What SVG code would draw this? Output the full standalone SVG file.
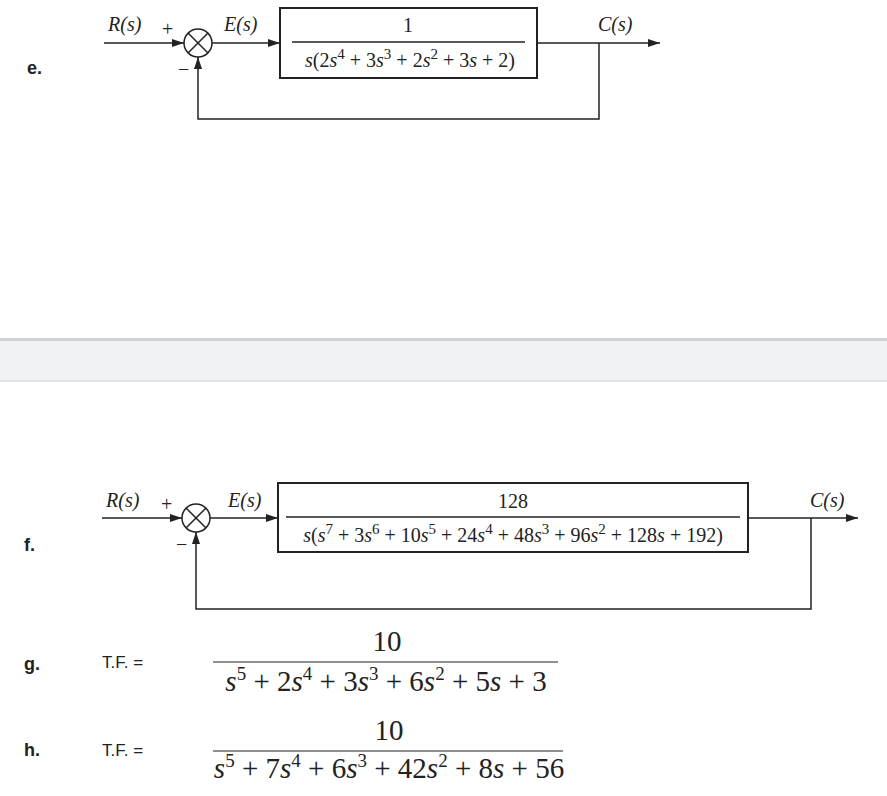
<svg xmlns="http://www.w3.org/2000/svg" width="887" height="796" viewBox="0 0 887 796">
<style>
.ln{stroke:#222;stroke-width:1.5;fill:none}
.bx{stroke:#222;stroke-width:2;fill:#fff}
.m{font-family:"Liberation Serif",serif;font-style:normal;font-size:20px;fill:#222}
.mi{font-family:"Liberation Serif",serif;font-style:italic;font-size:20px;fill:#222}
.sup{font-style:normal;font-size:15px}
.lb{font-family:"Liberation Sans",sans-serif;font-size:17px;fill:#222}
.lbb{font-family:"Liberation Sans",sans-serif;font-size:18px;font-weight:bold;fill:#222}
.big{font-family:"Liberation Serif",serif;font-size:29px;fill:#222}
</style>
<defs>
<marker id="a" markerWidth="12" markerHeight="8" refX="12" refY="4" orient="auto" markerUnits="userSpaceOnUse"><path d="M0,0 L12,4 L0,8 Z" fill="#222"/></marker>
</defs>
<rect width="887" height="796" fill="#fff"/>
<rect x="0" y="338" width="887" height="44" fill="#f1f2f4"/>
<rect x="0" y="338" width="887" height="3" fill="#cfd1d5"/>
<rect x="0" y="380" width="887" height="2" fill="#e2e4e7"/>

<text class="lbb" x="27" y="74">e.</text>
<text class="lbb" x="24" y="551">f.</text>
<text class="lbb" x="24" y="670">g.</text>
<text class="lbb" x="24" y="756">h.</text>

<g id="connectors">
<path class="ln" d="M104,43 H184" marker-end="url(#a)"/>
<path class="ln" d="M212,43 H280" marker-end="url(#a)"/>
<path class="ln" d="M537,43 H660" marker-end="url(#a)"/>
<path class="ln" d="M599,43 V119 H198 V57" marker-end="url(#a)"/>
<path class="ln" d="M102,518 H182" marker-end="url(#a)"/>
<path class="ln" d="M210,518 H278" marker-end="url(#a)"/>
<path class="ln" d="M748,518 H858" marker-end="url(#a)"/>
<path class="ln" d="M811,518 V609 H196 V532" marker-end="url(#a)"/>
</g>

<g id="sum-e"><circle class="ln" cx="198" cy="43" r="14"/><path class="ln" d="M188,33 L208,53 M208,33 L188,53"/></g>
<g id="block-e"><rect class="bx" x="280" y="8" width="257" height="70"/><text class="m" x="408" y="32" text-anchor="middle">1</text><line class="ln" x1="292" y1="42" x2="525" y2="42" stroke-width="1"/><text class="mi" x="410" y="67" text-anchor="middle">s<tspan class="m">(2</tspan>s<tspan class="sup" dy="-8">4</tspan><tspan class="m" dy="8"> + 3</tspan>s<tspan class="sup" dy="-8">3</tspan><tspan class="m" dy="8"> + 2</tspan>s<tspan class="sup" dy="-8">2</tspan><tspan class="m" dy="8"> + 3</tspan>s<tspan class="m"> + 2)</tspan></text></g>
<g id="labels-e"><text class="mi" x="108" y="31">R(s)</text><text class="m" x="162" y="36">+</text><text class="mi" x="224" y="31">E(s)</text><text class="mi" x="598" y="31">C(s)</text><text class="m" x="178" y="76">−</text></g>

<g id="sum-f"><circle class="ln" cx="196" cy="518" r="14"/><path class="ln" d="M186,508 L206,528 M206,508 L186,528"/></g>
<g id="block-f"><rect class="bx" x="278" y="483" width="470" height="69"/><text class="m" x="513" y="508" text-anchor="middle">128</text><line class="ln" x1="286" y1="517" x2="740" y2="517" stroke-width="1"/><text class="mi" x="513" y="542" text-anchor="middle">s<tspan class="m">(</tspan>s<tspan class="sup" dy="-8">7</tspan><tspan class="m" dy="8"> + 3</tspan>s<tspan class="sup" dy="-8">6</tspan><tspan class="m" dy="8"> + 10</tspan>s<tspan class="sup" dy="-8">5</tspan><tspan class="m" dy="8"> + 24</tspan>s<tspan class="sup" dy="-8">4</tspan><tspan class="m" dy="8"> + 48</tspan>s<tspan class="sup" dy="-8">3</tspan><tspan class="m" dy="8"> + 96</tspan>s<tspan class="sup" dy="-8">2</tspan><tspan class="m" dy="8"> + 128</tspan>s<tspan class="m"> + 192)</tspan></text></g>
<g id="labels-f"><text class="mi" x="106" y="507">R(s)</text><text class="m" x="161" y="511">+</text><text class="mi" x="228" y="507">E(s)</text><text class="mi" x="810" y="507">C(s)</text><text class="m" x="176" y="551">−</text></g>

<g id="tf-g"><text class="lb" x="102" y="668">T.F. =</text><text class="big" x="387" y="651" text-anchor="middle">10</text><line x1="213" y1="662" x2="558" y2="662" stroke="#222" stroke-width="1.2"/><text class="big" x="386" y="691" text-anchor="middle"><tspan font-style="italic">s</tspan><tspan font-size="19" dy="-11">5</tspan><tspan dy="11"> + 2</tspan><tspan font-style="italic">s</tspan><tspan font-size="19" dy="-11">4</tspan><tspan dy="11"> + 3</tspan><tspan font-style="italic">s</tspan><tspan font-size="19" dy="-11">3</tspan><tspan dy="11"> + 6</tspan><tspan font-style="italic">s</tspan><tspan font-size="19" dy="-11">2</tspan><tspan dy="11"> + 5</tspan><tspan font-style="italic">s</tspan><tspan> + 3</tspan></text></g>
<g id="tf-h"><text class="lb" x="102" y="756">T.F. =</text><text class="big" x="389" y="740" text-anchor="middle">10</text><line x1="213" y1="751" x2="563" y2="751" stroke="#222" stroke-width="1.2"/><text class="big" x="389" y="778" text-anchor="middle"><tspan font-style="italic">s</tspan><tspan font-size="19" dy="-11">5</tspan><tspan dy="11"> + 7</tspan><tspan font-style="italic">s</tspan><tspan font-size="19" dy="-11">4</tspan><tspan dy="11"> + 6</tspan><tspan font-style="italic">s</tspan><tspan font-size="19" dy="-11">3</tspan><tspan dy="11"> + 42</tspan><tspan font-style="italic">s</tspan><tspan font-size="19" dy="-11">2</tspan><tspan dy="11"> + 8</tspan><tspan font-style="italic">s</tspan><tspan> + 56</tspan></text></g>
</svg>
